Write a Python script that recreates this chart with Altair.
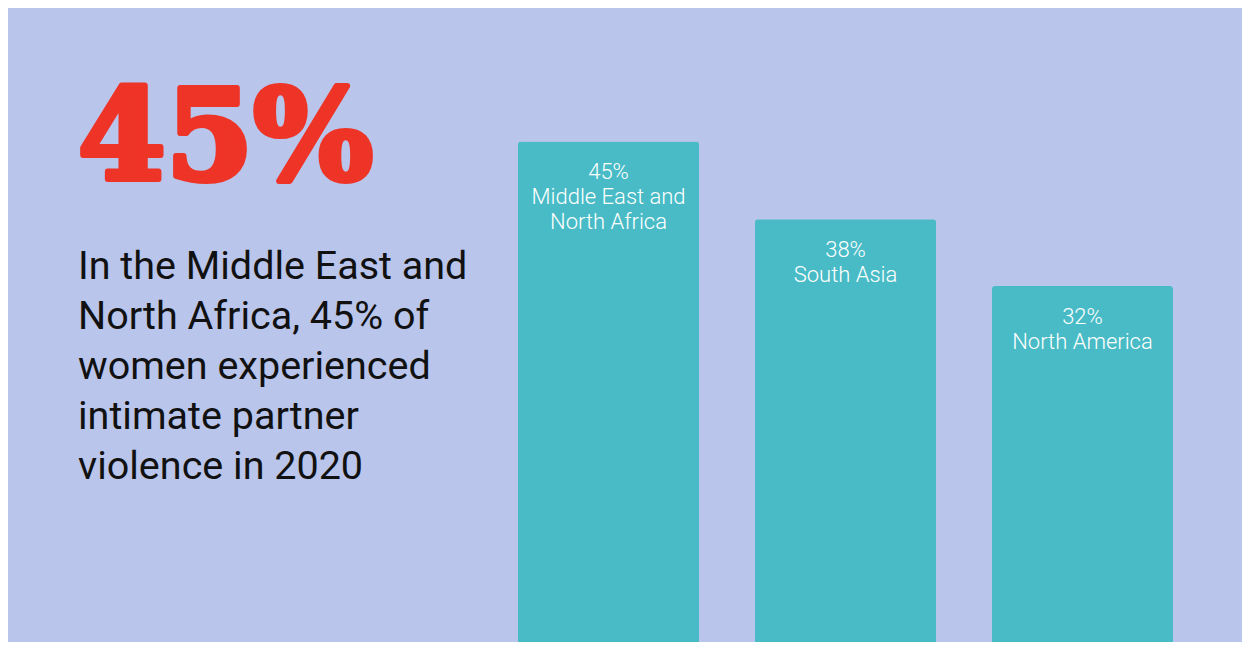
import altair as alt
import pandas as pd

# ---- data ----
regions = ["Middle East and North Africa", "South Asia", "North America"]
values = [45, 38, 32]
bar_labels = ["45%\nMiddle East and\nNorth Africa", "38%\nSouth Asia", "32%\nNorth America"]
headline = ["45%"]
paragraph = ["In the Middle East and\nNorth Africa, 45% of\nwomen experienced\nintimate partner\nviolence in 2020"]

BG = "#b9c5eb"
TEAL = "#48bbc6"
RED = "#ee3426"

bars_df = pd.DataFrame({"region": regions, "value": values, "label": bar_labels})
head_df = pd.DataFrame({"t": headline})
para_df = pd.DataFrame({"t": paragraph})

W, H = 1234, 634

x_enc = alt.X("region:N", sort=None, axis=None,
              scale=alt.Scale(range=[510, 1165], paddingInner=0.236, paddingOuter=0))
y_enc = alt.Y("value:Q", axis=None, scale=alt.Scale(domain=[0, 57], nice=False, zero=True))

bars = alt.Chart(bars_df).mark_bar(
    color=TEAL, cornerRadiusTopLeft=3, cornerRadiusTopRight=3
).encode(x=x_enc, y=y_enc)

labels = alt.Chart(bars_df).mark_text(
    color="white", font="Roboto", fontWeight=300, fontSize=22,
    baseline="alphabetic", align="center", dy=38, lineHeight=25, lineBreak="\n"
).encode(x=x_enc, y=y_enc, text="label:N")

head = alt.Chart(head_df).mark_text(
    color=RED, font="DejaVu Serif", fontWeight="bold", fontSize=126,
    align="left", baseline="alphabetic", stroke=RED, strokeWidth=6, strokeJoin="round"
).encode(x=alt.value(70), y=alt.value(171), text="t:N")

para = alt.Chart(para_df).mark_text(
    color="#111111", font="Roboto", fontWeight=400, fontSize=39.5,
    align="left", baseline="alphabetic", lineHeight=50, lineBreak="\n"
).encode(x=alt.value(70), y=alt.value(271), text="t:N")

chart = alt.layer(bars, labels, head, para).properties(
    width=W, height=H, padding=0,
    autosize=alt.AutoSizeParams(type="none"),
    background=BG,
).configure_view(stroke=None)

chart.save("out.html", embed_options={"renderer": "svg", "actions": False})
